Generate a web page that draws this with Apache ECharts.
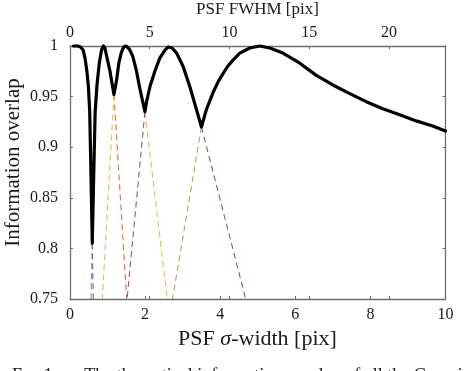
<!DOCTYPE html>
<html><head><meta charset="utf-8">
<script src="https://cdn.jsdelivr.net/npm/echarts@6/dist/echarts.min.js"></script>
<style>html,body{margin:0;padding:0;background:#fff}#c{width:474px;height:371px}</style>
</head><body><div id="c"></div>
<script>
// ---- data ----
const sigmaTicks = [0, 2, 4, 6, 8, 10];
const fwhmTicks = [0, 5, 10, 15, 20];
const overlapTicks = [0.75, 0.8, 0.85, 0.9, 0.95, 1];

const envelopeSigma = [0.09,0.2,0.28,0.35,0.4,0.45,0.49,0.525,0.56,0.593,
  0.63,0.67,0.72,0.78,0.84,0.89,0.93,0.976,1.06,1.12,
  1.17,1.24,1.30,1.37,1.43,1.49,1.58,1.67,1.76,1.86,
  1.995,2.04,2.13,2.26,2.39,2.53,2.61,2.72,2.84,3.01,
  3.19,3.37,3.50,3.63,3.81,3.95,4.08,4.2,4.34,4.52,4.79,5.05,
  5.32,5.67,6.12,6.56,7.0,7.45,7.89,8.33,8.78,9.22,
  9.66,10.0];
const envelopeOverlap = [1.0,1.0,0.999,0.996,0.988,0.975,0.96,0.935,0.87,0.805,
  0.87,0.935,0.962,0.983,0.996,1.0,0.998,0.99,0.976,0.963,
  0.952,0.966,0.983,0.994,0.999,1.0,0.997,0.99,0.977,0.958,
  0.935,0.945,0.960,0.975,0.988,0.996,0.999,0.998,0.993,0.980,
  0.960,0.937,0.920,0.937,0.954,0.965,0.973,0.980,0.986,0.993,0.998,1.0,
  0.998,0.993,0.983,0.971,0.9615,0.953,0.945,0.938,0.932,0.926,
  0.921,0.916];

// dashed continuations of the individual curves below each crossing
const model1Sigma = [0.593, 0.62];   const model1Overlap = [0.805, 0.75];
const model2aSigma = [0.593, 0.56];  const model2aOverlap = [0.805, 0.75];
const model2bSigma = [1.17, 1.51];   const model2bOverlap = [0.952, 0.75];
const model3aSigma = [1.17, 0.86];   const model3aOverlap = [0.952, 0.75];
const model3bSigma = [1.995, 2.59];  const model3bOverlap = [0.935, 0.75];
const model4aSigma = [1.995, 1.52];  const model4aOverlap = [0.935, 0.75];
const model4bSigma = [3.50, 4.68];   const model4bOverlap = [0.920, 0.75];
const model5Sigma = [3.50, 2.73];    const model5Overlap = [0.920, 0.75];

// ---- styling ----
const FWHM = 2 * Math.sqrt(2 * Math.log(2));
const SERIF = '"Liberation Serif", "DejaVu Serif", serif';
const FRAME = '#6e6e6e';
const TXT = '#1a1a1a';
const zip = (a, b) => a.map((v, i) => [v, b[i]]);

const dashed = [
  [model1Sigma, model1Overlap, '#0072BD'],
  [model2aSigma, model2aOverlap, '#D95319'],
  [model2bSigma, model2bOverlap, '#D95319'],
  [model3aSigma, model3aOverlap, '#EDB120'],
  [model3bSigma, model3bOverlap, '#EDB120'],
  [model4aSigma, model4aOverlap, '#7E2F8E'],
  [model4bSigma, model4bOverlap, '#7E2F8E'],
  [model5Sigma, model5Overlap, '#77AC30']
].map(([s, o, c]) => ({
  type: 'line', xAxisIndex: 0, yAxisIndex: 0, data: zip(s, o),
  showSymbol: false, silent: true, z: 2,
  lineStyle: { color: c, width: 1.1, type: [6, 4], opacity: 0.85 }
}));

const tickInside = { show: true, inside: true, length: 3, lineStyle: { color: FRAME, width: 1 } };
const lineOn = { show: true, onZero: false, lineStyle: { color: FRAME, width: 1.3 } };

const option = {
  animation: false,
  backgroundColor: '#fff',
  grid: { left: 70, right: 28.5, top: 46, bottom: 72, containLabel: false },
  xAxis: [
    { type: 'value', position: 'bottom', min: sigmaTicks[0], max: sigmaTicks[sigmaTicks.length - 1], interval: 2,
      axisLine: lineOn, axisTick: tickInside, splitLine: { show: false },
      axisLabel: { fontFamily: SERIF, fontSize: 16, color: TXT, margin: 8 } },
    { type: 'value', position: 'top', min: 0, max: 10 * FWHM, interval: 5,
      axisLine: lineOn, axisTick: tickInside, splitLine: { show: false },
      axisLabel: { fontFamily: SERIF, fontSize: 16, color: TXT, margin: 5, showMaxLabel: false,
        formatter: v => fwhmTicks.some(t => Math.abs(t - v) < 1e-6) ? String(Math.round(v)) : '' } },
    { type: 'value', position: 'bottom', min: 0, max: 10 * FWHM, interval: 5,
      axisLine: { show: false }, axisTick: tickInside, splitLine: { show: false }, axisLabel: { show: false } }
  ],
  yAxis: [
    { type: 'value', position: 'left', min: overlapTicks[0], max: overlapTicks[overlapTicks.length - 1], interval: 0.05,
      axisLine: lineOn, axisTick: tickInside, splitLine: { show: false },
      axisLabel: { fontFamily: SERIF, fontSize: 16, color: TXT, margin: 12 } },
    { type: 'value', position: 'right', min: 0.75, max: 1, interval: 0.05,
      axisLine: lineOn, axisTick: tickInside, splitLine: { show: false }, axisLabel: { show: false } }
  ],
  series: dashed.concat([{
    type: 'line', xAxisIndex: 0, yAxisIndex: 0, data: zip(envelopeSigma, envelopeOverlap),
    showSymbol: false, silent: true, z: 3, clip: false,
    lineStyle: { color: '#000', width: 3.2, join: 'round', cap: 'round' }
  }]),
  graphic: [
    { type: 'text', x: 257.5, y: 10, style: { text: 'PSF FWHM [pix]', font: '17px ' + SERIF, fill: TXT,
      align: 'center', verticalAlign: 'middle', textAlign: 'center', textVerticalAlign: 'middle' } },
    { type: 'text', x: 257.5, y: 339, style: { text: '{n|PSF }{i|σ}{n|-width [pix]}', fill: TXT,
      align: 'center', verticalAlign: 'middle', textAlign: 'center', textVerticalAlign: 'middle',
      rich: { n: { fontFamily: SERIF, fontSize: 22, fill: TXT }, i: { fontFamily: SERIF, fontSize: 22, fontStyle: 'italic', fill: TXT } } } },
    { type: 'text', x: 13, y: 162.5, rotation: Math.PI / 2, style: { text: 'Information overlap', font: '21px ' + SERIF, fill: TXT,
      align: 'center', verticalAlign: 'middle', textAlign: 'center', textVerticalAlign: 'middle' } },
    { type: 'text', x: 12, y: 376, style: { text: '{a|F}{b|IG. }{a|1. — The theoretical information overlap of all the Gaussian}', fill: TXT,
      align: 'left', verticalAlign: 'middle', textAlign: 'left', textVerticalAlign: 'middle',
      rich: { a: { fontFamily: SERIF, fontSize: 18, lineHeight: 18, verticalAlign: 'bottom', fill: TXT },
              b: { fontFamily: SERIF, fontSize: 14, lineHeight: 18, verticalAlign: 'bottom', fill: TXT } } } }
  ]
};
const chart = echarts.init(document.getElementById('c'), null, { renderer: 'canvas' });
chart.setOption(option);
</script></body></html>
